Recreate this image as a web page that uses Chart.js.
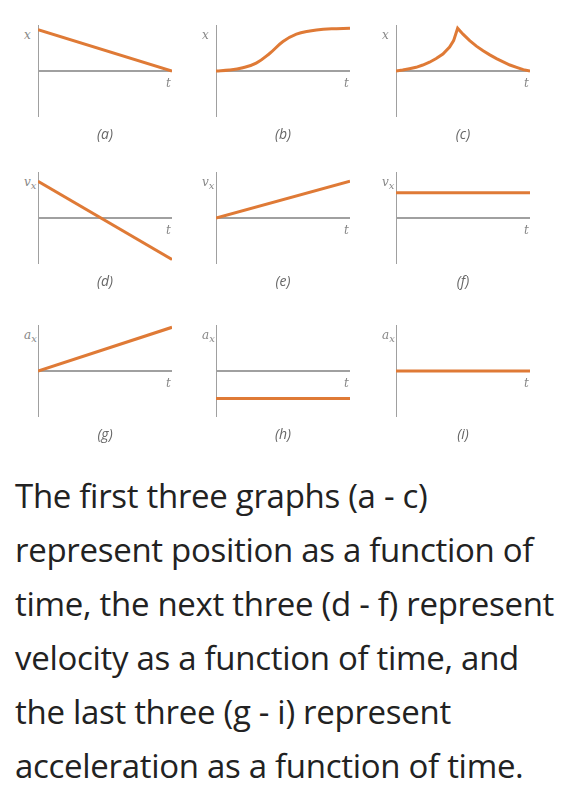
<!DOCTYPE html>
<html><head><meta charset="utf-8">
<script src="https://cdn.jsdelivr.net/npm/chart.js@4"></script>
<style>
body{margin:0;background:#fff;width:575px;height:787px;overflow:hidden;position:relative;font-family:"Open Sans",sans-serif}
canvas{position:absolute}
.l{position:absolute;font-family:"DejaVu Serif",serif;font-style:italic;color:#888;font-size:12px}
.c{position:absolute;color:#666;font-size:14px;width:40px;text-align:center;margin-left:-20px;font-style:italic}
#txt{position:absolute;left:15px;top:469px;font-size:33px;line-height:54px;color:#222;white-space:nowrap;letter-spacing:-0.3px}
</style></head><body>
<div id="txt">The first three graphs (a - c)<br>represent position as a function of<br>time, the next three (d - f) represent<br>velocity as a function of time, and<br>the last three (g - i) represent<br>acceleration as a function of time.</div>
<script>
const panelNames=["(a)","(b)","(c)","(d)","(e)","(f)","(g)","(h)","(i)"];
const yLabels=["x","x","x","v<sub>x</sub>","v<sub>x</sub>","v<sub>x</sub>","a<sub>x</sub>","a<sub>x</sub>","a<sub>x</sub>"];
const tA=[0,10], yA=[0.9,0];
const tB=[0,1,2,3,4,5,6,7,8,9,10], yB=[0,0.02,0.07,0.17,0.38,0.64,0.8,0.87,0.91,0.92,0.93];
const tC=[0,0.5,1,1.5,2,2.5,3,3.5,4,4.3,4.6,5,5.5,6,6.5,7,7.5,8,8.5,9,9.5,10], yC=[0,0.02,0.05,0.08,0.13,0.19,0.27,0.37,0.52,0.66,0.93,0.8,0.66,0.54,0.44,0.35,0.27,0.2,0.13,0.08,0.03,0];
const tD=[0,10], yD=[0.8,-0.9];
const tE=[0,10], yE=[0,0.8];
const tF=[0,10], yF=[0.55,0.55];
const tG=[0,10], yG=[0,0.95];
const tH=[0,10], yH=[-0.6,-0.6];
const tI=[0,10], yI=[0,0];
const series=[[tA,yA],[tB,yB],[tC,yC],[tD,yD],[tE,yE],[tF,yF],[tG,yG],[tH,yH],[tI,yI]];
const colX=[38,216,396], rowY=[25,172,325], W=134, H=92;
series.forEach((s,i)=>{
  const col=i%3,row=Math.floor(i/3);
  const cv=document.createElement('canvas');
  cv.style.left=colX[col]+'px';cv.style.top=rowY[row]+'px';
  cv.style.width=W+'px';cv.style.height=H+'px';
  cv.width=W;cv.height=H;
  document.body.appendChild(cv);
  const pts=s[0].map((t,k)=>({x:t,y:s[1][k]}));
  new Chart(cv,{type:'scatter',data:{datasets:[
    {data:pts,showLine:true,borderColor:'#df7a36',borderWidth:3,pointRadius:0,tension:i===1?0.4:0,clip:false},
    {data:[{x:0,y:-1},{x:0,y:1}],showLine:true,borderColor:'#a0a0a0',borderWidth:2,pointRadius:0,clip:false},
    {data:[{x:0,y:0},{x:10,y:0}],showLine:true,borderColor:'#a0a0a0',borderWidth:2,pointRadius:0,clip:false}
  ]},options:{responsive:false,animation:false,devicePixelRatio:1,layout:{padding:0},
    plugins:{legend:{display:false},tooltip:{enabled:false}},
    scales:{x:{type:'linear',display:false,min:0,max:10},y:{type:'linear',display:false,min:-1,max:1}}}});
  const yl=document.createElement('div');yl.className='l';yl.innerHTML=yLabels[i];
  yl.style.left=(colX[col]-14)+'px';yl.style.top=(rowY[row]+3)+'px';document.body.appendChild(yl);
  const tl=document.createElement('div');tl.className='l';tl.textContent='t';
  tl.style.left=(colX[col]+W-6)+'px';tl.style.top=(rowY[row]+H/2+5)+'px';document.body.appendChild(tl);
  const c=document.createElement('div');c.className='c';c.textContent=panelNames[i];
  c.style.left=(colX[col]+W/2)+'px';c.style.top=(rowY[row]+99)+'px';document.body.appendChild(c);
});
</script></body></html>
